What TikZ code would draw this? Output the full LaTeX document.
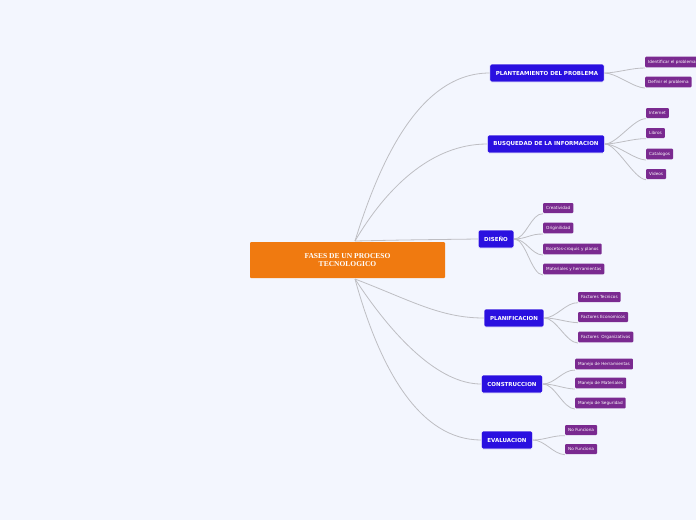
\documentclass[tikz,border=0pt]{standalone}
\usepackage{fontspec}
\setmainfont{Liberation Serif}
\setsansfont{DejaVu Sans}
\definecolor{bgc}{RGB}{243,246,254}
\definecolor{orc}{RGB}{240,122,16}
\definecolor{blc}{RGB}{42,16,224}
\definecolor{puc}{RGB}{122,42,144}
\definecolor{lnc}{RGB}{190,190,195}
\begin{document}
\begin{tikzpicture}[x=1pt,y=-1pt,
 root/.style={fill=orc,text=white,font=\rmfamily\bfseries\fontsize{7.5}{8}\selectfont,align=center,minimum width=195pt,minimum height=36pt,inner sep=1pt,rounded corners=1pt},
 main/.style={fill=blc,draw=white,line width=0.6pt,text=white,font=\sffamily\bfseries\fontsize{5.5}{6}\selectfont,minimum height=18pt,inner xsep=6pt,rounded corners=1.5pt},
 sub/.style={fill=puc,text=white,font=\sffamily\fontsize{4.2}{5}\selectfont,minimum height=10pt,inner xsep=3pt,anchor=west,rounded corners=1pt},
 con/.style={draw=lnc,line width=0.8pt}]
\fill[bgc] (0,0) rectangle (696,520);
\clip (0,0) rectangle (696,520);
\useasboundingbox (0,0) rectangle (696,520);
\node[root] (r) at (347.5,260) {FASES DE UN PROCESO\\TECNOLOGICO};
\node[main] (m1) at (547,73) {PLANTEAMIENTO DEL PROBLEMA};
\node[main] (m2) at (546,144) {BUSQUEDAD DE LA INFORMACION};
\node[main] (m3) at (496,239) {DISEÑO};
\node[main] (m4) at (514,318) {PLANIFICACION};
\node[main] (m5) at (512,384) {CONSTRUCCION};
\node[main] (m6) at (507,440) {EVALUACION};
\coordinate (rt) at (355,241);
\coordinate (rb) at (355,279);
\draw[con] (rt) .. controls (380,160) and (420,73) .. (m1.west);
\draw[con] (rt) .. controls (385,190) and (430,144) .. (m2.west);
\draw[con] (rt) .. controls (400,240) .. (m3.west);
\draw[con] (rb) .. controls (410,300) and (440,318) .. (m4.west);
\draw[con] (rb) .. controls (395,340) and (440,384) .. (m5.west);
\draw[con] (rb) .. controls (380,370) and (420,440) .. (m6.west);
\foreach \n/\x/\y/\t/\m in {
 s11/645/62/Identificar el problema/m1, s12/645/82/Definir el problema/m1,
 s21/646/113/Internet/m2, s22/646/133/Libros/m2, s23/646/154/Catalogos/m2, s24/646/174/Videos/m2,
 s31/543/208/Creatividad/m3, s32/543/228/Originilidad/m3, s33/543/249/Bocetos-croquis y planos/m3, s34/543/269/Materiales y herramientas/m3,
 s41/578/297/Factores Tecnicos/m4, s42/578/317/Factores Economicos/m4, s43/578/337/Factores\ \ Organizativos/m4,
 s51/575/364/Manejo de Herramientas/m5, s52/575/383/Manejo de Materiales/m5, s53/575/403/Manejo de Seguridad/m5,
 s61/565/430/No Funciona/m6, s62/565/449/No Funciona/m6}{
 \node[sub] (\n) at (\x,\y) {\t};
 \draw[con] (\m.east) .. controls ([xshift=12pt]\m.east) and ([xshift=-12pt]\n.south west) .. ([yshift=-0.5pt]\n.south west);
}
\end{tikzpicture}
\end{document}
